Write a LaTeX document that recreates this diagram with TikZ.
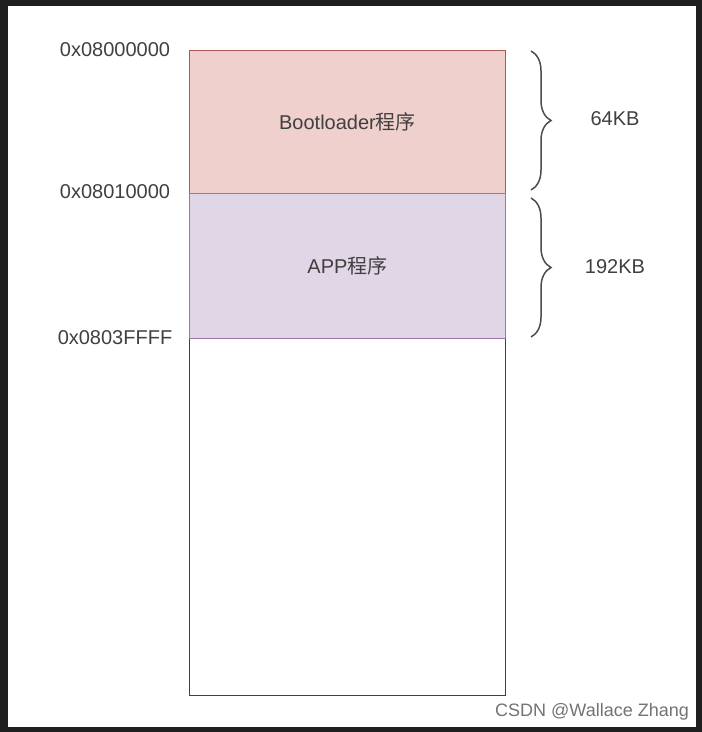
\documentclass[tikz,border=0pt]{standalone}
\usepackage{fontspec}
\setmainfont{Liberation Sans}
\newfontfamily\cjk{Noto Sans CJK SC}
\usetikzlibrary{decorations.pathreplacing}
\definecolor{bootfill}{RGB}{239,208,204}
\definecolor{bootline}{RGB}{170,90,85}
\definecolor{appfill}{RGB}{224,214,230}
\definecolor{appline}{RGB}{150,120,170}
\begin{document}
\begin{tikzpicture}[x=1pt,y=-1pt,
  lbl/.style={font=\fontsize{20}{24}\selectfont, text=black!75},
  brc/.style={draw=black!70, line width=1.5pt, decorate, decoration={brace, amplitude=20pt}}]
\fill[black!88] (0,0) rectangle (702,732);
\fill[white] (8,6) rectangle (696,727);
\useasboundingbox (0,0) rectangle (702,732);
\node[draw=black!75, line width=1pt, minimum width=316pt, minimum height=645pt, inner sep=0, anchor=north west] (mem) at (189,50) {};
\node[draw=bootline, fill=bootfill, line width=1pt, minimum width=316pt, minimum height=143pt, inner sep=0, anchor=north west] (boot) at (189,50) {};
\node[draw=appline, fill=appfill, line width=1pt, minimum width=316pt, minimum height=145pt, inner sep=0, anchor=north west] (app) at (189,193) {};
\node[lbl] at (boot.center) {Bootloader{\cjk 程序}};
\node[lbl] at (app.center) {APP{\cjk 程序}};
\node[lbl] (a1) at (115,50) {0x08000000};
\node[lbl] (a2) at (115,192) {0x08010000};
\node[lbl] (a3) at (115,338) {0x0803FFFF};
\coordinate (b1t) at (531,51);
\coordinate (b1b) at (531,190);
\coordinate (b2t) at (531,198);
\coordinate (b2b) at (531,337);
\draw[brc] (b1t) -- (b1b);
\draw[brc] (b2t) -- (b2b);
\node[lbl] (k1) at (615,119) {64KB};
\node[lbl] (k2) at (615,267) {192KB};
\node[font=\fontsize{18}{20}\selectfont, text=black!55] (wm) at (592,712) {CSDN @Wallace Zhang};
\end{tikzpicture}
\end{document}
